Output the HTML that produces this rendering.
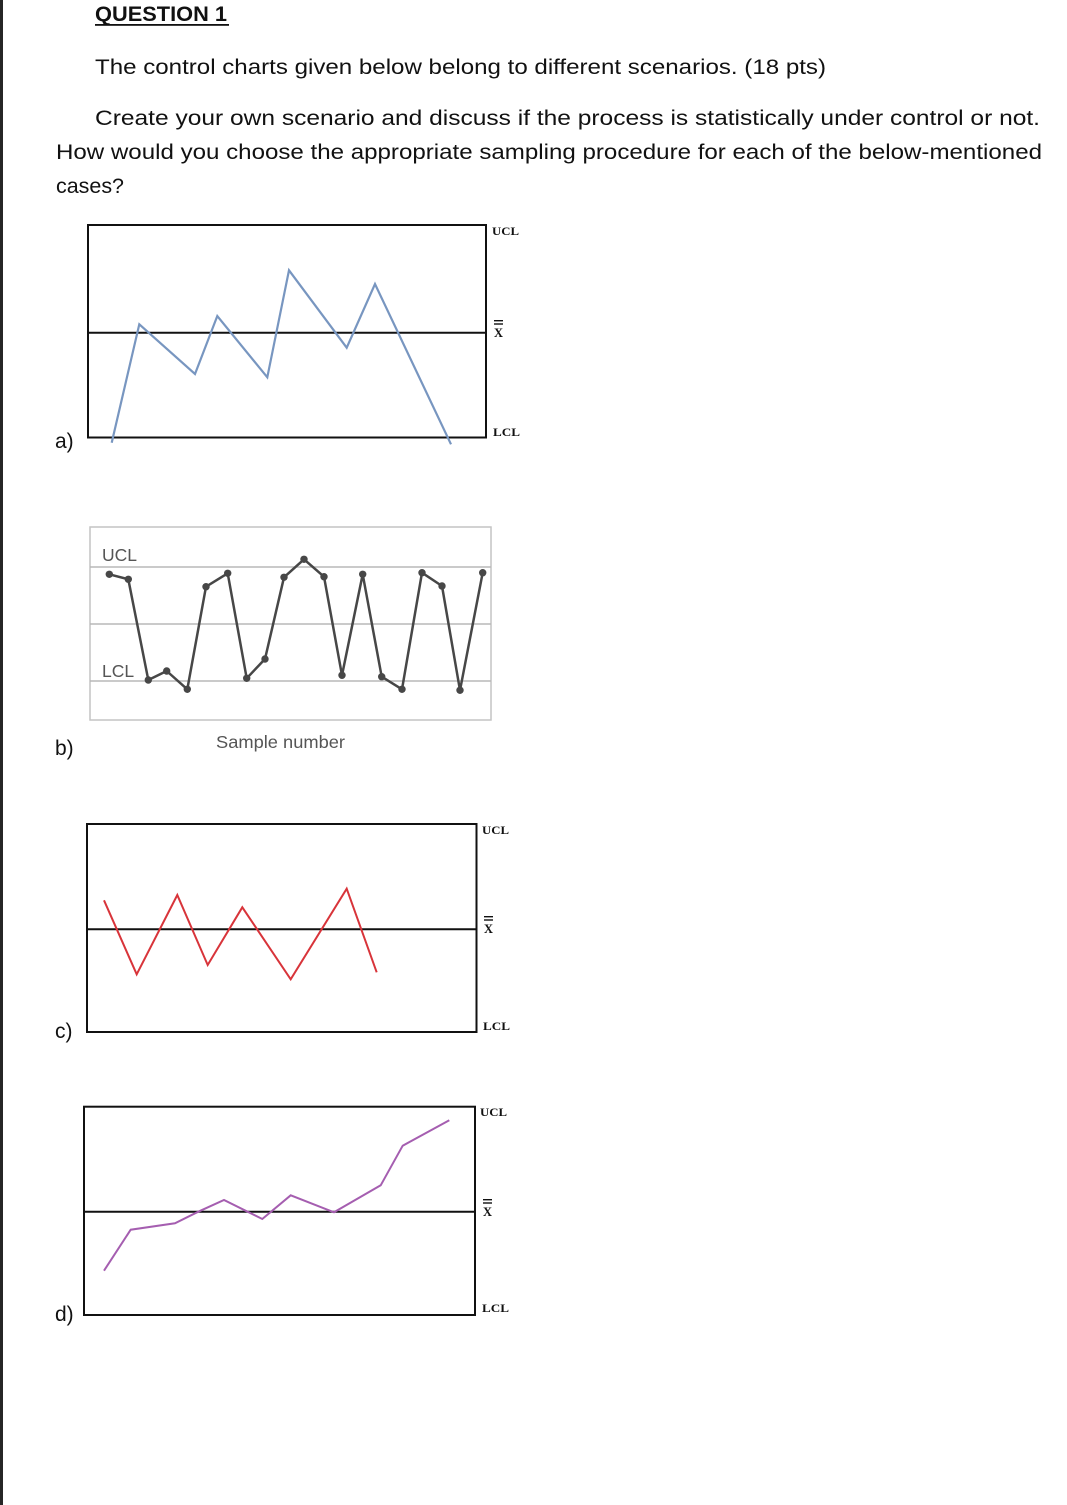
<!DOCTYPE html>
<html>
<head>
<meta charset="utf-8">
<style>
  html,body{margin:0;padding:0;background:#fff;}
  svg{display:block;}
</style>
</head>
<body>
<svg xmlns="http://www.w3.org/2000/svg" width="1067" height="1505" viewBox="0 0 1067 1505">
  <rect x="0" y="0" width="1067" height="1505" fill="#ffffff"/>
  <rect x="0" y="0" width="3" height="1505" fill="#262626"/>

  <!-- Header text -->
  <g font-family="'Liberation Sans', sans-serif" fill="#111">
    <text x="95" y="21" font-size="21.5" font-weight="bold" textLength="132" lengthAdjust="spacingAndGlyphs">QUESTION 1</text>
    <rect x="95" y="24" width="134" height="1.8" fill="#111"/>
    <text x="95" y="74" font-size="21" textLength="731" lengthAdjust="spacingAndGlyphs">The control charts given below belong to different scenarios. (18 pts)</text>
    <text x="95" y="125" font-size="21" textLength="945" lengthAdjust="spacingAndGlyphs">Create your own scenario and discuss if the process is statistically under control or not.</text>
    <text x="56" y="159" font-size="21" textLength="986" lengthAdjust="spacingAndGlyphs">How would you choose the appropriate sampling procedure for each of the below-mentioned</text>
    <text x="56" y="193" font-size="21" textLength="68" lengthAdjust="spacingAndGlyphs">cases?</text>

    <text x="55" y="448" font-size="21">a)</text>
    <text x="55" y="755" font-size="21">b)</text>
    <text x="55" y="1038" font-size="21">c)</text>
    <text x="55" y="1321" font-size="21">d)</text>
  </g>

  <!-- Chart a -->
  <g>
    <rect x="88" y="225" width="398" height="212.5" fill="none" stroke="#111" stroke-width="2"/>
    <line x1="88" y1="332.7" x2="486" y2="332.7" stroke="#111" stroke-width="2"/>
    <polyline fill="none" stroke="#7896c0" stroke-width="2.2" stroke-linejoin="miter"
      points="111.7,442.7 139.3,324.3 195,374 217.3,316 267.3,377.3 289,270.3 346.7,347.7 375,284 451,444.3"/>
    <g font-family="'Liberation Serif', serif" font-weight="bold" font-size="12" fill="#111">
      <text x="492" y="235" textLength="27" lengthAdjust="spacingAndGlyphs">UCL</text>
      <text x="494" y="337" font-size="12.5">X</text>
      <text x="493" y="436" textLength="27" lengthAdjust="spacingAndGlyphs">LCL</text>
    </g>
    <rect x="494" y="320" width="9" height="1.4" fill="#111"/>
    <rect x="494" y="323.3" width="9" height="1.4" fill="#111"/>
  </g>

  <!-- Chart b -->
  <g>
    <rect x="90" y="527" width="401" height="193" fill="#fff" stroke="#c4c4c4" stroke-width="1.5"/>
    <line x1="90" y1="567" x2="491" y2="567" stroke="#b8b8b8" stroke-width="1.5"/>
    <line x1="90" y1="624" x2="491" y2="624" stroke="#b8b8b8" stroke-width="1.5"/>
    <line x1="90" y1="681" x2="491" y2="681" stroke="#b8b8b8" stroke-width="1.5"/>
    <g font-family="'Liberation Sans', sans-serif" font-size="17.5" fill="#555">
      <text x="102" y="561">UCL</text>
      <text x="102" y="677">LCL</text>
      <text x="216" y="748" textLength="129" lengthAdjust="spacingAndGlyphs">Sample number</text>
    </g>
    <polyline fill="none" stroke="#474747" stroke-width="2.5" stroke-linejoin="round"
      points="109.3,574.3 128.3,579.3 148.3,680 166.7,671 187.3,689.3 206,586.7 227.7,573.3 246.7,678.3 265,659 284,577.3 304,559.3 324,576.7 342,675.3 362.7,574.3 381.7,676.7 402,689.3 422,572.7 442,586 460,690.3 482.7,572.7"/>
    <g fill="#474747">
      <circle cx="109.3" cy="574.3" r="3.7"/>
      <circle cx="128.3" cy="579.3" r="3.7"/>
      <circle cx="148.3" cy="680" r="3.7"/>
      <circle cx="166.7" cy="671" r="3.7"/>
      <circle cx="187.3" cy="689.3" r="3.7"/>
      <circle cx="206" cy="586.7" r="3.7"/>
      <circle cx="227.7" cy="573.3" r="3.7"/>
      <circle cx="246.7" cy="678.3" r="3.7"/>
      <circle cx="265" cy="659" r="3.7"/>
      <circle cx="284" cy="577.3" r="3.7"/>
      <circle cx="304" cy="559.3" r="3.7"/>
      <circle cx="324" cy="576.7" r="3.7"/>
      <circle cx="342" cy="675.3" r="3.7"/>
      <circle cx="362.7" cy="574.3" r="3.7"/>
      <circle cx="381.7" cy="676.7" r="3.7"/>
      <circle cx="402" cy="689.3" r="3.7"/>
      <circle cx="422" cy="572.7" r="3.7"/>
      <circle cx="442" cy="586" r="3.7"/>
      <circle cx="460" cy="690.3" r="3.7"/>
      <circle cx="482.7" cy="572.7" r="3.7"/>
    </g>
  </g>

  <!-- Chart c -->
  <g>
    <rect x="87" y="824" width="389.5" height="208" fill="none" stroke="#111" stroke-width="2"/>
    <line x1="87" y1="929.3" x2="476.5" y2="929.3" stroke="#111" stroke-width="2"/>
    <polyline fill="none" stroke="#d8343a" stroke-width="2"
      points="104,900.3 136.7,974.3 177.3,895 207.7,965 242.3,907.3 290.7,979.3 346.7,888.7 376.7,972.3"/>
    <g font-family="'Liberation Serif', serif" font-weight="bold" font-size="12" fill="#111">
      <text x="482" y="834" textLength="27" lengthAdjust="spacingAndGlyphs">UCL</text>
      <text x="484" y="933" font-size="12.5">X</text>
      <text x="483" y="1030" textLength="27" lengthAdjust="spacingAndGlyphs">LCL</text>
    </g>
    <rect x="484" y="916" width="9" height="1.4" fill="#111"/>
    <rect x="484" y="919.3" width="9" height="1.4" fill="#111"/>
  </g>

  <!-- Chart d -->
  <g>
    <rect x="84" y="1106.7" width="391" height="208.3" fill="none" stroke="#111" stroke-width="2"/>
    <line x1="84" y1="1211.7" x2="475" y2="1211.7" stroke="#111" stroke-width="2"/>
    <polyline fill="none" stroke="#a55eb0" stroke-width="2"
      points="104,1270.7 130.7,1229.7 175,1223.3 198.3,1211.7 224,1200 262.3,1219 290.7,1195.3 334,1212.3 380.7,1185.3 402.7,1145.7 449.3,1120.3"/>
    <g font-family="'Liberation Serif', serif" font-weight="bold" font-size="12" fill="#111">
      <text x="480" y="1116" textLength="27" lengthAdjust="spacingAndGlyphs">UCL</text>
      <text x="483" y="1216" font-size="12.5">X</text>
      <text x="482" y="1312" textLength="27" lengthAdjust="spacingAndGlyphs">LCL</text>
    </g>
    <rect x="483" y="1199" width="9" height="1.4" fill="#111"/>
    <rect x="483" y="1202.3" width="9" height="1.4" fill="#111"/>
  </g>
</svg>
</body>
</html>
